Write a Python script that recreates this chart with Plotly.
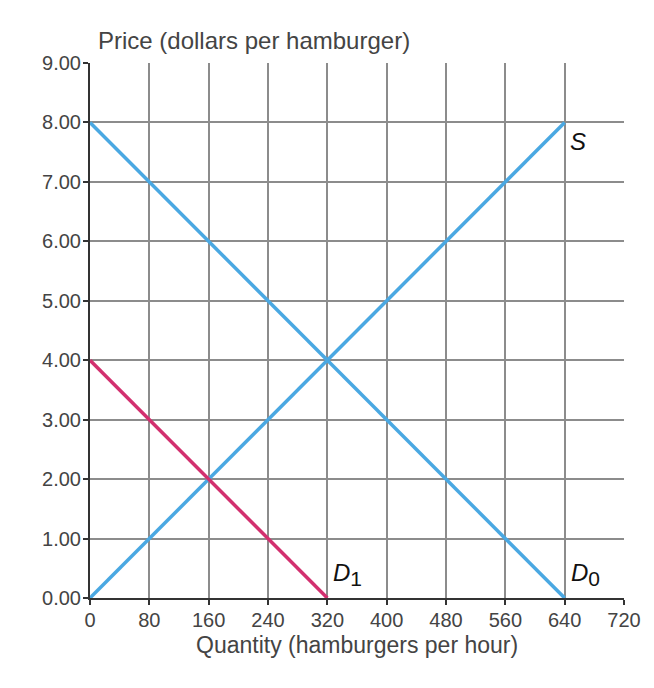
import plotly.graph_objects as go

supply_q = [0, 640]
supply_p = [0, 8]
d0_q = [0, 640]
d0_p = [8, 0]
d1_q = [0, 320]
d1_p = [4, 0]
x_ticks = [0, 80, 160, 240, 320, 400, 480, 560, 640, 720]
y_ticks = [0, 1, 2, 3, 4, 5, 6, 7, 8, 9]
y_tick_labels = [f"{v:.2f}" for v in y_ticks]

blue = "#4aa8e2"
pink = "#d2306f"
font = "Liberation Sans, Arial, sans-serif"

fig = go.Figure()
fig.add_trace(go.Scatter(x=supply_q, y=supply_p, mode="lines", line=dict(color=blue, width=3.5)))
fig.add_trace(go.Scatter(x=d0_q, y=d0_p, mode="lines", line=dict(color=blue, width=3.5)))
fig.add_trace(go.Scatter(x=d1_q, y=d1_p, mode="lines", line=dict(color=pink, width=3.5)))

fig.update_layout(
    width=654, height=688,
    margin=dict(l=90, r=30, t=63, b=90),
    paper_bgcolor="white", plot_bgcolor="white",
    showlegend=False,
    font=dict(family=font, size=20, color="#444"),
    xaxis=dict(range=[0, 720], tickvals=x_ticks, showgrid=True, gridcolor="#8c8c8c", gridwidth=2,
               showline=True, linecolor="#333", linewidth=2, ticks="outside", ticklen=5,
               tickcolor="#333", tickwidth=2, zeroline=False, ticklabelstandoff=-2,
               tickfont=dict(size=20, color="#444")),
    yaxis=dict(range=[0, 9], tickvals=y_ticks, ticktext=y_tick_labels, showgrid=True, gridcolor="#8c8c8c",
               gridwidth=2, showline=True, linecolor="#333", linewidth=2, ticks="outside", ticklen=5,
               tickcolor="#333", tickwidth=2, zeroline=False, ticklabelstandoff=-2,
               tickfont=dict(size=20, color="#444")),
)

fig.add_annotation(text="Price (dollars per hamburger)", xref="paper", yref="paper", x=0.012, y=1.0,
                   yshift=23, xanchor="left", yanchor="middle", showarrow=False,
                   font=dict(size=24, color="#444"))
fig.add_annotation(text="Quantity (hamburgers per hour)", xref="paper", yref="paper", x=0.5, y=0,
                   yshift=-47, xanchor="center", yanchor="middle", showarrow=False,
                   font=dict(size=23, color="#444"))
fig.add_annotation(text="<i>S</i>", x=640, y=8, xanchor="left", yanchor="top", xshift=3, yshift=-4,
                   showarrow=False, font=dict(size=24, color="#111"))
sub = "<sub><span style='font-size:21px'>{}</span></sub>"
fig.add_annotation(text="<i>D</i>" + sub.format("1"), x=320, y=0, xanchor="left", yanchor="bottom",
                   xshift=4, yshift=6, showarrow=False, font=dict(size=24, color="#111"))
fig.add_annotation(text="<i>D</i>" + sub.format("0"), x=640, y=0, xanchor="left", yanchor="bottom",
                   xshift=4, yshift=6, showarrow=False, font=dict(size=24, color="#111"))

fig.write_html("out.html")
